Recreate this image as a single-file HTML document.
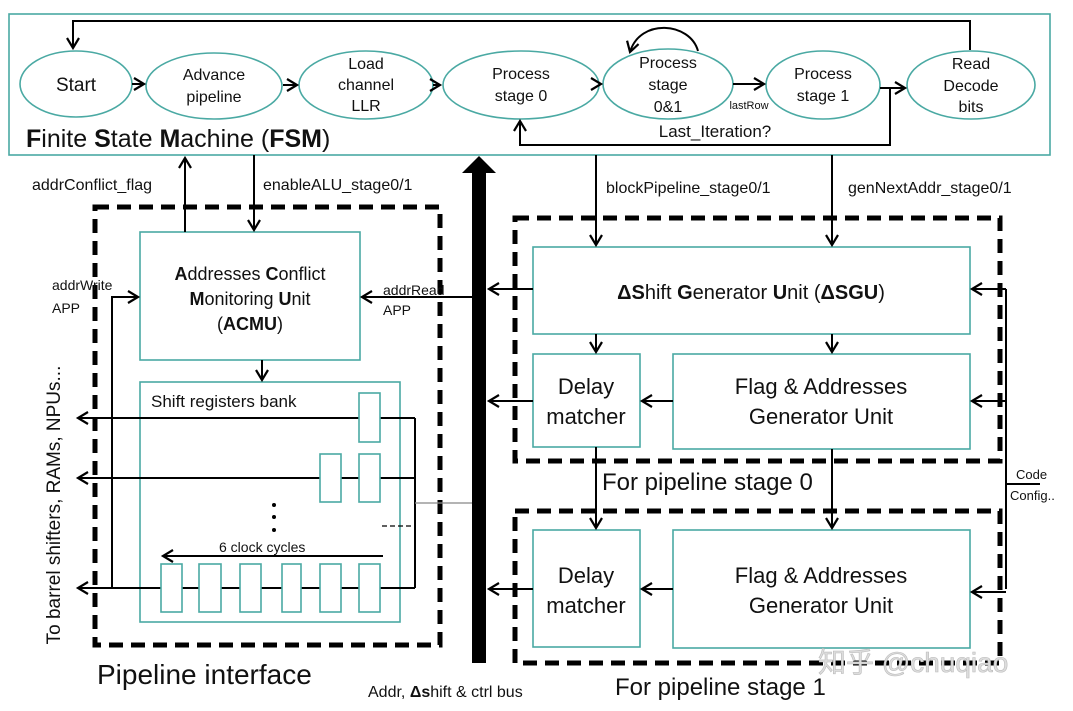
<!DOCTYPE html>
<html><head><meta charset="utf-8"><style>
html,body{margin:0;padding:0;background:#fff;}
svg{display:block;font-family:"Liberation Sans","Noto Sans CJK SC",sans-serif;}
</style></head><body>
<svg width="1073" height="711" viewBox="0 0 1073 711" xmlns="http://www.w3.org/2000/svg">
<defs>
<marker id="a" markerWidth="14" markerHeight="14" refX="11" refY="7" orient="auto" markerUnits="userSpaceOnUse">
<path d="M1,1 L11,7 L1,13" fill="none" stroke="#000" stroke-width="2.2"/></marker>
</defs>
<g fill="none" stroke="#4aa9a3" stroke-width="1.6">
<rect x="9" y="14" width="1041" height="141"/>
<ellipse cx="76" cy="84" rx="56" ry="33"/>
<ellipse cx="214" cy="86" rx="68" ry="33"/>
<ellipse cx="366" cy="85" rx="67" ry="34"/>
<ellipse cx="521" cy="85" rx="78" ry="34"/>
<ellipse cx="668" cy="84" rx="65" ry="35"/>
<ellipse cx="823" cy="85" rx="57" ry="34"/>
<ellipse cx="971" cy="85" rx="64" ry="34"/>
<rect x="140" y="232" width="220" height="128"/>
<rect x="140" y="382" width="260" height="240"/>
<rect x="533" y="247" width="437" height="87"/>
<rect x="533" y="354" width="107" height="93"/>
<rect x="673" y="354" width="297" height="95"/>
<rect x="533" y="530" width="107" height="117"/>
<rect x="673" y="530" width="297" height="118"/>
</g>
<g fill="none" stroke="#000" stroke-width="5" stroke-dasharray="14,8">
<rect x="95" y="207" width="345" height="438"/>
<rect x="515" y="218" width="485" height="243"/>
<rect x="515" y="511" width="485" height="152"/>
</g>
<g fill="none" stroke="#000" stroke-width="2">
<polyline points="970,50 970,21 73,21 73,48" marker-end="url(#a)"/>
<line x1="132" y1="84" x2="144" y2="84" marker-end="url(#a)"/>
<line x1="283" y1="85" x2="297" y2="85" marker-end="url(#a)"/>
<line x1="433" y1="85" x2="440" y2="85" marker-end="url(#a)"/>
<line x1="599" y1="84" x2="601" y2="84" marker-end="url(#a)"/>
<line x1="733" y1="84" x2="764" y2="84" marker-end="url(#a)"/>
<line x1="880" y1="88" x2="905" y2="88" marker-end="url(#a)"/>
<polyline points="890,88 890,145 520,145 520,121" marker-end="url(#a)"/>
<path d="M698,51 C690,22 640,18 630,52" marker-end="url(#a)"/>
<line x1="185" y1="232" x2="185" y2="158" marker-end="url(#a)"/>
<line x1="254" y1="155" x2="254" y2="230" marker-end="url(#a)"/>
<line x1="596" y1="155" x2="596" y2="245" marker-end="url(#a)"/>
<line x1="832" y1="155" x2="832" y2="245" marker-end="url(#a)"/>
<line x1="262" y1="360" x2="262" y2="380" marker-end="url(#a)"/>
<line x1="596" y1="334" x2="596" y2="352" marker-end="url(#a)"/>
<line x1="832" y1="334" x2="832" y2="352" marker-end="url(#a)"/>
<line x1="596" y1="447" x2="596" y2="528" marker-end="url(#a)"/>
<line x1="832" y1="449" x2="832" y2="528" marker-end="url(#a)"/>
<line x1="673" y1="401" x2="642" y2="401" marker-end="url(#a)"/>
<line x1="673" y1="589" x2="642" y2="589" marker-end="url(#a)"/>
<line x1="533" y1="289" x2="489" y2="289" marker-end="url(#a)"/>
<line x1="533" y1="401" x2="489" y2="401" marker-end="url(#a)"/>
<line x1="533" y1="589" x2="489" y2="589" marker-end="url(#a)"/>
<line x1="473" y1="297" x2="362" y2="297" marker-end="url(#a)"/>
<polyline points="1040,484 1006,484"/>
<polyline points="1006,289 1006,589"/>
<line x1="1006" y1="289" x2="972" y2="289" marker-end="url(#a)"/>
<line x1="1006" y1="401" x2="972" y2="401" marker-end="url(#a)"/>
<line x1="1006" y1="592" x2="972" y2="592" marker-end="url(#a)"/>
<polyline points="112,588 112,297 138,297" marker-end="url(#a)"/>
<polyline points="415,418 415,588"/>
<line x1="415" y1="418" x2="78" y2="418" marker-end="url(#a)"/>
<line x1="415" y1="478" x2="78" y2="478" marker-end="url(#a)"/>
<line x1="415" y1="588" x2="78" y2="588" marker-end="url(#a)"/>
<line x1="383" y1="556" x2="163" y2="556" marker-end="url(#a)"/>
</g>
<line x1="415" y1="503" x2="473" y2="503" stroke="#888" stroke-width="1.2"/>
<line x1="382" y1="526" x2="415" y2="526" stroke="#000" stroke-width="1.2" stroke-dasharray="5,3"/>
<g fill="#fff" stroke="#4aa9a3" stroke-width="1.6">
<rect x="359" y="393" width="21" height="49"/>
<rect x="320" y="454" width="21" height="48"/>
<rect x="359" y="454" width="21" height="48"/>
<rect x="161" y="564" width="21" height="48"/>
<rect x="199" y="564" width="22" height="48"/>
<rect x="240" y="564" width="21" height="48"/>
<rect x="282" y="564" width="19" height="48"/>
<rect x="320" y="564" width="21" height="48"/>
<rect x="359" y="564" width="21" height="48"/>
</g>
<g fill="#000">
<circle cx="274" cy="505" r="2"/><circle cx="274" cy="517" r="2"/><circle cx="274" cy="530" r="2"/>
<rect x="472" y="170" width="14" height="493"/>
<polygon points="479,156 462,173 496,173"/>
</g>
<g font-size="16" text-anchor="middle" fill="#111">
<text x="76" y="91" font-size="19">Start</text>
<text x="214" y="80">Advance</text><text x="214" y="102">pipeline</text>
<text x="366" y="69">Load</text><text x="366" y="90">channel</text><text x="366" y="111">LLR</text>
<text x="521" y="79">Process</text><text x="521" y="101">stage 0</text>
<text x="668" y="68">Process</text><text x="668" y="90">stage</text><text x="668" y="112">0&amp;1</text>
<text x="823" y="79">Process</text><text x="823" y="101">stage 1</text>
<text x="971" y="69">Read</text><text x="971" y="91">Decode</text><text x="971" y="112">bits</text>
<text x="749" y="109" font-size="11">lastRow</text>
<text x="715" y="137" font-size="17">Last_Iteration?</text>
</g>
<text x="26" y="147" font-size="25" fill="#111"><tspan font-weight="bold">F</tspan>inite <tspan font-weight="bold">S</tspan>tate <tspan font-weight="bold">M</tspan>achine (<tspan font-weight="bold">FSM</tspan>)</text>
<g font-size="16" fill="#111">
<text x="32" y="190">addrConflict_flag</text>
<text x="263" y="190">enableALU_stage0/1</text>
<text x="606" y="193">blockPipeline_stage0/1</text>
<text x="848" y="193">genNextAddr_stage0/1</text>
<text x="52" y="290" font-size="14">addrWrite</text>
<text x="52" y="313" font-size="14">APP</text>
<text x="383" y="295" font-size="14">addrRead</text>
<text x="383" y="315" font-size="14">APP</text>
<text x="151" y="407" font-size="17">Shift registers bank</text>
<text x="219" y="552" font-size="14">6 clock cycles</text>
<text x="1016" y="479" font-size="13">Code</text>
<text x="1010" y="500" font-size="13">Config..</text>
</g>
<g font-size="18" text-anchor="middle" fill="#111">
<text x="250" y="280"><tspan font-weight="bold">A</tspan>ddresses <tspan font-weight="bold">C</tspan>onflict</text>
<text x="250" y="305"><tspan font-weight="bold">M</tspan>onitoring <tspan font-weight="bold">U</tspan>nit</text>
<text x="250" y="330">(<tspan font-weight="bold">ACMU</tspan>)</text>
<text x="751" y="299" font-size="20"><tspan font-weight="bold">ΔS</tspan>hift <tspan font-weight="bold">G</tspan>enerator <tspan font-weight="bold">U</tspan>nit (<tspan font-weight="bold">ΔSGU</tspan>)</text>
<text x="586" y="394" font-size="22">Delay</text><text x="586" y="424" font-size="22">matcher</text>
<text x="821" y="394" font-size="22">Flag &amp; Addresses</text><text x="821" y="424" font-size="22">Generator Unit</text>
<text x="586" y="583" font-size="22">Delay</text><text x="586" y="613" font-size="22">matcher</text>
<text x="821" y="583" font-size="22">Flag &amp; Addresses</text><text x="821" y="613" font-size="22">Generator Unit</text>
</g>
<text x="60" y="505" font-size="19" text-anchor="middle" fill="#111" transform="rotate(-90 60 505)">To barrel shifters,  RAMs,  NPUs...</text>
<text x="97" y="684" font-size="28" fill="#111">Pipeline interface</text>
<text x="368" y="697" font-size="16" fill="#111">Addr, <tspan font-weight="bold">Δs</tspan>hift &amp; ctrl bus</text>
<text x="602" y="490" font-size="24" fill="#111">For pipeline  stage 0</text>
<text x="615" y="695" font-size="24" fill="#111">For pipeline  stage 1</text>
<text x="818" y="672" font-size="28" fill="#ddd" stroke="#bbb" stroke-width="0.6">知乎 @chuqiao</text>
</svg>
</body></html>
